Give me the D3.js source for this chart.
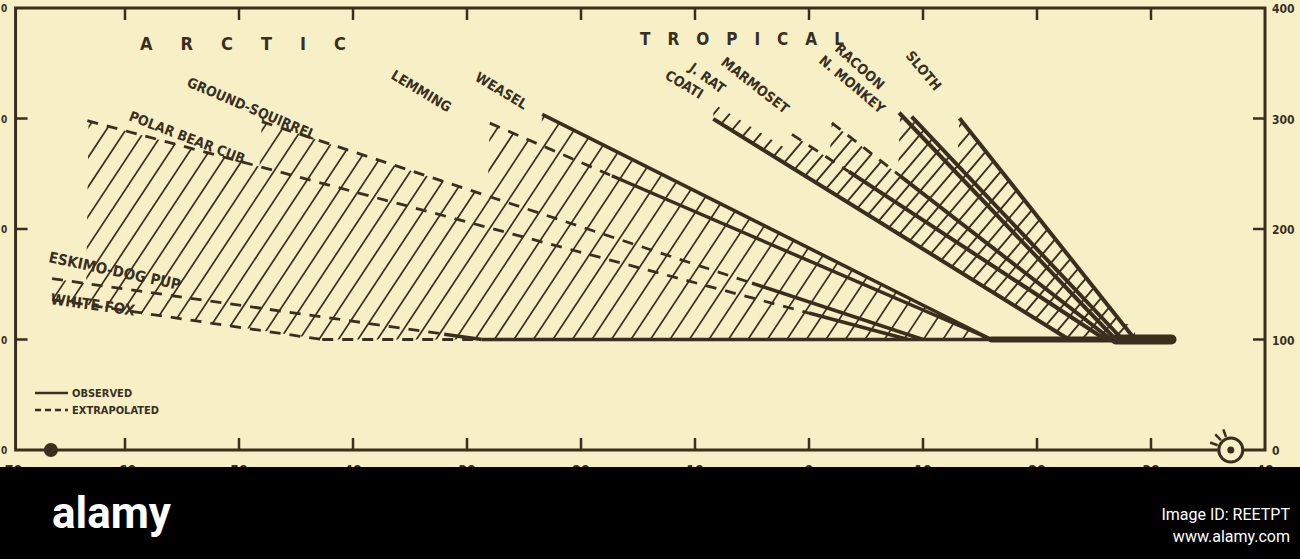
<!DOCTYPE html>
<html><head><meta charset="utf-8">
<script src="https://cdn.jsdelivr.net/npm/d3@7"></script>
<style>body{margin:0;background:#f7f0c6}svg{display:block}</style>
</head><body>
<script>
const species = ["WHITE FOX","ESKIMO-DOG PUP","POLAR BEAR CUB","GROUND-SQUIRREL","LEMMING","WEASEL","COATI","J. RAT","MARMOSET","N. MONKEY","RACOON","SLOTH"];
const group   = ["A","A","A","A","A","A","T","T","T","T","T","T"];
const tCrit   = [-42.7,-28.7,8.7,10,16,16,22.8,26,26.5,26.9,27.5,28.6];
const slopes  = [1.52,1.46,2.75,3.4,4.45,5.17,6.4,6.75,8,10.8,10.9,13];
const tStart  = [-66.4,-66.4,-63.3,-48,-28,-23.4,-8.4,-1.5,2,7.9,9,13.2];
const tObs    = [-42.7,-32,0,-5,-17.3,-23.4,-8.4,3.5,8,7.9,9,13.2];
const xTicks  = [-60,-50,-40,-30,-20,-10,0,10,20,30];
const xLabels = ["-70","-60","50","40","30","20","10","0","10","20","30","40"];
const xLabelVals = [-70,-60,-50,-40,-30,-20,-10,0,10,20,30,40];
const yTicks  = [0,100,200,300,400];
const baseEnd = 31.8, bodyTemp = 37, coldDot = -66.5;

const W=1300,H=559, ink="#3a2f1e";
const x=d3.scaleLinear([-70,40],[11,1265]);
const y=d3.scaleLinear([0,400],[450,8]);
const svg=d3.select("body").append("svg").attr("width",W).attr("height",H);
svg.append("rect").attr("width",W).attr("height",H).attr("fill","#f7f0c6");
const font="'DejaVu Sans Condensed','DejaVu Sans',sans-serif";

const val=(i,t)=>100+slopes[i]*(tCrit[i]-t);
const idx=g=>species.map((_,i)=>i).filter(i=>group[i]===g);

function region(ids, lowerFn, t0, t1, pad){
  const ts=d3.range(t0,t1+0.001,0.2);
  const up=ts.map(t=>{let m=100;ids.forEach(i=>{if(t>=tStart[i]-0.01&&t<=tCrit[i])m=Math.max(m,val(i,t));});m=Math.max(m,lowerFn(t)+pad);return [x(t),y(m)];});
  const lo=ts.map(t=>[x(t),y(lowerFn(t))]).reverse();
  return up.concat(lo);
}
const defs=svg.append("defs");
const arcticPoly=region(idx("A"),t=>t<tCrit[0]?val(0,t):100,-66.4,16,0);
const tropPoly=region(idx("T"),t=>t<tCrit[6]?val(6,t):100,-8.4,28.6,14);
defs.append("clipPath").attr("id","ca").append("polygon").attr("points",arcticPoly.join(" "));
defs.append("clipPath").attr("id","ct").append("polygon").attr("points",tropPoly.join(" "));
const ha=svg.append("g").attr("clip-path","url(#ca)");
d3.range(-300,1100,19.5).forEach(x0=>ha.append("line").attr("x1",x0).attr("y1",450).attr("x2",x0+0.66*440).attr("y2",10).attr("stroke",ink).attr("stroke-width",1.7));
const ht=svg.append("g").attr("clip-path","url(#ct)");
d3.range(300,1300,16).forEach(x0=>ht.append("line").attr("x1",x0).attr("y1",450).attr("x2",x0+0.85*440).attr("y2",10).attr("stroke",ink).attr("stroke-width",1.9));

species.forEach((s,i)=>{
  if(tObs[i]>tStart[i]) svg.append("line").attr("x1",x(tStart[i])).attr("y1",y(val(i,tStart[i]))).attr("x2",x(tObs[i])).attr("y2",y(val(i,tObs[i])))
    .attr("stroke",ink).attr("stroke-width",2.8).attr("stroke-dasharray","11,9");
  if(tCrit[i]>tObs[i]) svg.append("line").attr("x1",x(tObs[i])).attr("y1",y(val(i,tObs[i]))).attr("x2",x(tCrit[i])).attr("y2",y(100))
    .attr("stroke",ink).attr("stroke-width",i>=6?4:3.5);
});
svg.append("line").attr("x1",x(tCrit[0])).attr("x2",x(tCrit[1])).attr("y1",y(100)).attr("y2",y(100)).attr("stroke",ink).attr("stroke-width",2.8).attr("stroke-dasharray","11,9");
svg.append("line").attr("x1",x(tCrit[1])).attr("x2",x(baseEnd)).attr("y1",y(100)).attr("y2",y(100)).attr("stroke",ink).attr("stroke-width",3.5);
svg.append("line").attr("x1",x(tCrit[4])).attr("x2",x(baseEnd)).attr("y1",y(100)).attr("y2",y(100)).attr("stroke",ink).attr("stroke-width",6).attr("stroke-linecap","round");
svg.append("line").attr("x1",x(tCrit[9])).attr("x2",x(baseEnd)).attr("y1",y(100)).attr("y2",y(100)).attr("stroke",ink).attr("stroke-width",10).attr("stroke-linecap","round");

svg.append("rect").attr("x",x(-69.6)).attr("y",y(400)).attr("width",x(40)-x(-69.6)).attr("height",y(0)-y(400)).attr("fill","none").attr("stroke",ink).attr("stroke-width",3);
const tk=svg.append("g").attr("stroke",ink).attr("stroke-width",2.5);
xTicks.forEach(t=>{tk.append("line").attr("x1",x(t)).attr("x2",x(t)).attr("y1",y(0)).attr("y2",y(0)-12);
  tk.append("line").attr("x1",x(t)).attr("x2",x(t)).attr("y1",y(400)).attr("y2",y(400)+12);});
yTicks.slice(1,4).forEach(v=>{tk.append("line").attr("x1",x(-69.6)).attr("x2",x(-69.6)+12).attr("y1",y(v)).attr("y2",y(v));
  tk.append("line").attr("x1",x(40)).attr("x2",x(40)-12).attr("y1",y(v)).attr("y2",y(v));});
const tx=svg.append("g").attr("font-family",font).attr("font-weight","bold").attr("fill",ink);
yTicks.forEach(v=>{tx.append("text").attr("x",1272).attr("y",Math.max(y(v)+5,12)).attr("font-size",12).text(v);
  tx.append("text").attr("x",1).attr("y",Math.max(y(v)+4,12)).attr("font-size",10).text("0");});
xLabels.forEach((l,k)=>tx.append("text").attr("x",x(xLabelVals[k])).attr("y",475).attr("text-anchor","middle").attr("font-size",14).text(l));

svg.append("circle").attr("cx",x(coldDot)).attr("cy",y(0)).attr("r",7).attr("fill",ink);
const sx=x(bodyTemp),sy=y(0);
svg.append("circle").attr("cx",sx).attr("cy",sy).attr("r",12).attr("fill","#f7f0c6").attr("stroke",ink).attr("stroke-width",3);
svg.append("circle").attr("cx",sx).attr("cy",sy).attr("r",3.5).attr("fill",ink);
[200,225,250].forEach(a=>{const r=a*Math.PI/180;svg.append("line").attr("x1",sx+Math.cos(r)*14).attr("y1",sy+Math.sin(r)*14).attr("x2",sx+Math.cos(r)*22).attr("y2",sy+Math.sin(r)*22).attr("stroke",ink).attr("stroke-width",2.5);});

tx.append("text").attr("x",140).attr("y",50).attr("font-size",18).attr("letter-spacing",28).text("ARCTIC");
tx.append("text").attr("x",640).attr("y",45).attr("font-size",17).attr("letter-spacing",17).text("TROPICAL");
const labPos=[[50,304,8],[48,262,12],[128,120,21],[186,86,23],[390,78,31],[474,80,31],[664,78,31],[688,70,36],[720,64,38],[818,62,40],[834,50,42],[905,56,50]];
species.forEach((s,i)=>{const p=labPos[i];tx.append("text").attr("transform",`translate(${p[0]},${p[1]}) rotate(${p[2]})`).attr("font-size",i<2?15:14).attr("font-weight","bold").text(s);});
svg.append("line").attr("x1",35).attr("x2",68).attr("y1",393).attr("y2",393).attr("stroke",ink).attr("stroke-width",2.5);
svg.append("line").attr("x1",35).attr("x2",68).attr("y1",410).attr("y2",410).attr("stroke",ink).attr("stroke-width",2.5).attr("stroke-dasharray","6,4");
tx.append("text").attr("x",72).attr("y",397).attr("font-size",11).text("OBSERVED");
tx.append("text").attr("x",72).attr("y",414).attr("font-size",11).text("EXTRAPOLATED");

svg.append("rect").attr("y",467).attr("width",W).attr("height",H-467).attr("fill","#000");
svg.append("text").attr("x",52).attr("y",528).attr("font-family","Roboto,sans-serif").attr("font-weight","bold").attr("font-size",44).attr("fill","#fff").text("alamy");
svg.append("text").attr("x",1290).attr("y",520).attr("text-anchor","end").attr("font-family","Roboto,sans-serif").attr("font-size",16).attr("fill","#fff").text("Image ID: REETPT");
svg.append("text").attr("x",1290).attr("y",542).attr("text-anchor","end").attr("font-family","Roboto,sans-serif").attr("font-size",16).attr("fill","#fff").text("www.alamy.com");
</script>
</body></html>
